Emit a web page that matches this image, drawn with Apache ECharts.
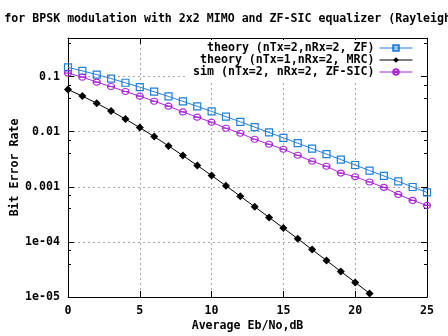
<!DOCTYPE html>
<html><head><meta charset="utf-8">
<script src="https://cdn.jsdelivr.net/npm/echarts@6/dist/echarts.min.js"></script>
<style>html,body{margin:0;padding:0;background:#fff}#c{width:448px;height:336px}</style>
</head><body><div id="c"></div>
<script>
const titleText = 'BER for BPSK modulation with 2x2 MIMO and ZF-SIC equalizer (Rayleigh channel)';
const xName = 'Average Eb/No,dB';
const yName = 'Bit Error Rate';
const seriesNames = ['theory (nTx=2,nRx=2, ZF)', 'theory (nTx=1,nRx=2, MRC)', 'sim (nTx=2, nRx=2, ZF-SIC)'];
const ebno = [0,1,2,3,4,5,6,7,8,9,10,11,12,13,14,15,16,17,18,19,20,21,22,23,24,25];
const theoryZF = [0.1464,0.1267,0.1085,0.0919,0.0771,0.0642,0.0530,0.0435,0.0355,0.0288,0.0233,0.01875,0.01507,0.01208,0.00966,0.00773,0.00617,0.00492,0.00392,0.00312,0.00248,0.00197,0.00157,0.00125,0.00099,0.00079];
const theoryMRC = [0.0581,0.0441,0.0328,0.0238,0.0169,0.01183,0.00813,0.00551,0.00368,0.00244,0.00160,0.00104,0.000674,0.000434,0.000278,0.000178,0.000114,7.24e-5,4.60e-5,2.91e-5,1.84e-5,1.16e-5];
const simZFSIC = [0.1153,0.0975,0.0791,0.0658,0.0534,0.0440,0.0357,0.0290,0.0228,0.0183,0.01483,0.01153,0.00935,0.00728,0.00590,0.00479,0.00372,0.00290,0.00235,0.00177,0.00152,0.00122,0.000975,0.000727,0.000566,0.000459];
const xTicks = [0,5,10,15,20,25];
const yTickValues = [1e-5,1e-4,1e-3,1e-2,1e-1];
const yTickLabels = ['1e-05','1e-04','0.001','0.01','0.1'];

const FONT = 'DejaVu Sans Mono';
const FS = 11.6;
const txt = {fontFamily: FONT, fontWeight: 'bold', fontSize: FS, color: '#000'};
const BLUE = '#1f7fd9', MAG = '#a928d6', BLK = '#000';

function pairs(vals) { return vals.map((v, i) => [ebno[i], v]); }
function yFmt(v) {
  for (let i = 0; i < yTickValues.length; i++) {
    if (Math.abs(Math.log10(v) - Math.log10(yTickValues[i])) < 1e-6) return yTickLabels[i];
  }
  return '';
}
const grid = {left: 68, right: 21, top: 38, bottom: 39, containLabel: false, outerBoundsMode: 'none'};
const dashed = {show: true, lineStyle: {color: '#a8a8a8', type: [2, 3], width: 1}};
const axLine = {show: true, onZero: false, lineStyle: {color: '#000', width: 1}};

const chart = echarts.init(document.getElementById('c'));
chart.setOption({
  animation: false,
  backgroundColor: '#fff',
  title: {text: titleText, left: -23.6, top: 13, padding: 0, textStyle: txt},
  legend: {
    orient: 'vertical', align: 'right', right: 28, top: 40,
    padding: [2, 7, 3, 5], backgroundColor: '#fff',
    itemWidth: 33, itemHeight: 7, itemGap: 0,
    lineStyle: {width: 1},
    textStyle: Object.assign({}, txt, {lineHeight: 12}),
    data: seriesNames
  },
  grid: grid,
  xAxis: [{
    type: 'value', min: xTicks[0], max: xTicks[xTicks.length - 1], interval: 5, position: 'bottom',
    axisLine: axLine, axisTick: {show: true, inside: true, length: 6, lineStyle: {color: '#000'}},
    axisLabel: Object.assign({margin: 8}, txt), splitLine: dashed,
    name: xName, nameLocation: 'middle', nameGap: 23, nameMoveOverlap: false, nameTextStyle: txt
  }, {
    type: 'value', min: xTicks[0], max: xTicks[xTicks.length - 1], interval: 5, position: 'top',
    axisLine: axLine, axisTick: {show: true, inside: true, length: 6, lineStyle: {color: '#000'}},
    axisLabel: {show: false}, splitLine: {show: false}
  }],
  yAxis: [{
    type: 'log', logBase: 10, min: 1e-5, max: 0.5, position: 'left',
    axisLine: axLine, axisTick: {show: true, inside: true, length: 6, lineStyle: {color: '#000'}},
    minorTick: {show: true, splitNumber: 3, length: 3, lineStyle: {color: '#000'}},
    axisLabel: Object.assign({margin: 8, formatter: yFmt}, txt), splitLine: dashed,
    name: yName, nameLocation: 'middle', nameGap: 47, nameMoveOverlap: false, nameRotate: 90, nameTextStyle: txt
  }, {
    type: 'log', logBase: 10, min: 1e-5, max: 0.5, position: 'right',
    axisLine: axLine, axisTick: {show: true, inside: true, length: 6, lineStyle: {color: '#000'}},
    minorTick: {show: true, splitNumber: 3, length: 3, lineStyle: {color: '#000'}},
    axisLabel: {show: false}, splitLine: {show: false}
  }],
  series: [{
    name: seriesNames[0], type: 'line', data: pairs(theoryZF),
    symbol: 'rect', symbolSize: 7,
    lineStyle: {color: BLUE, width: 1},
    itemStyle: {color: 'transparent', borderColor: BLUE, borderWidth: 1.2}
  }, {
    name: seriesNames[1], type: 'line', data: pairs(theoryMRC),
    symbol: 'diamond', symbolSize: 8,
    lineStyle: {color: BLK, width: 1},
    itemStyle: {color: BLK}
  }, {
    name: seriesNames[2], type: 'line', data: pairs(simZFSIC),
    symbol: 'path://M0,4A5,4 0 1,1 10,4A5,4 0 1,1 0,4ZM0,4L10,4', symbolSize: [7, 6],
    lineStyle: {color: MAG, width: 1},
    itemStyle: {color: 'transparent', borderColor: MAG, borderWidth: 1.2}
  }]
});
</script></body></html>
